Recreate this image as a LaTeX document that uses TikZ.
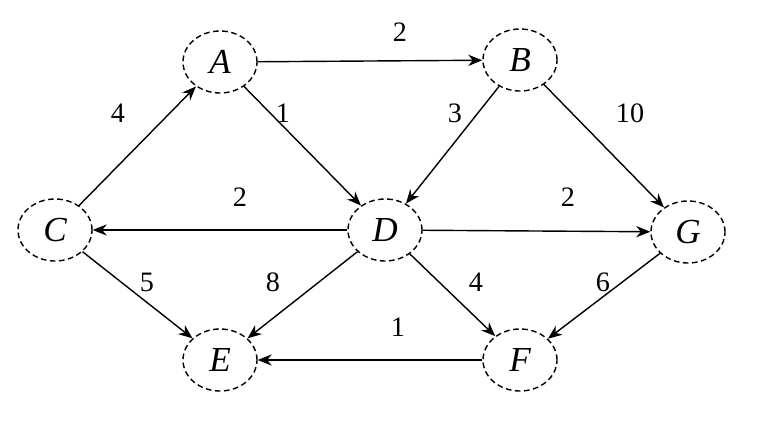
\documentclass[tikz,border=0pt]{standalone}
\usepackage{fontspec}
\setmainfont{Liberation Serif}
\usetikzlibrary{shapes.geometric,arrows.meta}
\begin{document}
\begin{tikzpicture}[x=0.025cm,y=-0.025cm,
  vtx/.style={ellipse,draw,line width=1pt,dash pattern=on 4pt off 2.5pt,minimum width=1.85cm,minimum height=1.55cm,inner sep=0pt,font=\fontsize{25}{28}\selectfont\itshape},
  wt/.style={font=\fontsize{20}{23}\selectfont},
  arr/.style={-{Stealth[length=10pt,width=8pt]},line width=1pt}]
\useasboundingbox (0,0) rectangle (757,422);
\node[vtx] (A) at (220,62) {A};
\node[vtx] (B) at (520,60) {B};
\node[vtx] (C) at (55,230) {C};
\node[vtx] (D) at (385,230) {D};
\node[vtx] (G) at (688,232) {G};
\node[vtx] (E) at (220,360) {E};
\node[vtx] (F) at (520,360) {F};
\draw[arr] (A) -- (B);
\draw[arr] (A) -- (D);
\draw[arr] (C) -- (A);
\draw[arr] (B) -- (D);
\draw[arr] (B) -- (G);
\draw[arr] (D) -- (C);
\draw[arr] (D) -- (G);
\draw[arr] (C) -- (E);
\draw[arr] (D) -- (E);
\draw[arr] (D) -- (F);
\draw[arr] (G) -- (F);
\draw[arr] (F) -- (E);
\node[wt] (w1) at (400,32) {2};
\node[wt] (w2) at (283,113) {1};
\node[wt] (w3) at (118,113) {4};
\node[wt] (w4) at (455,113) {3};
\node[wt] (w5) at (630,113) {10};
\node[wt] (w6) at (240,197) {2};
\node[wt] (w7) at (568,197) {2};
\node[wt] (w8) at (147,282) {5};
\node[wt] (w9) at (273,282) {8};
\node[wt] (w10) at (476,282) {4};
\node[wt] (w11) at (603,282) {6};
\node[wt] (w12) at (398,327) {1};
\end{tikzpicture}
\end{document}
